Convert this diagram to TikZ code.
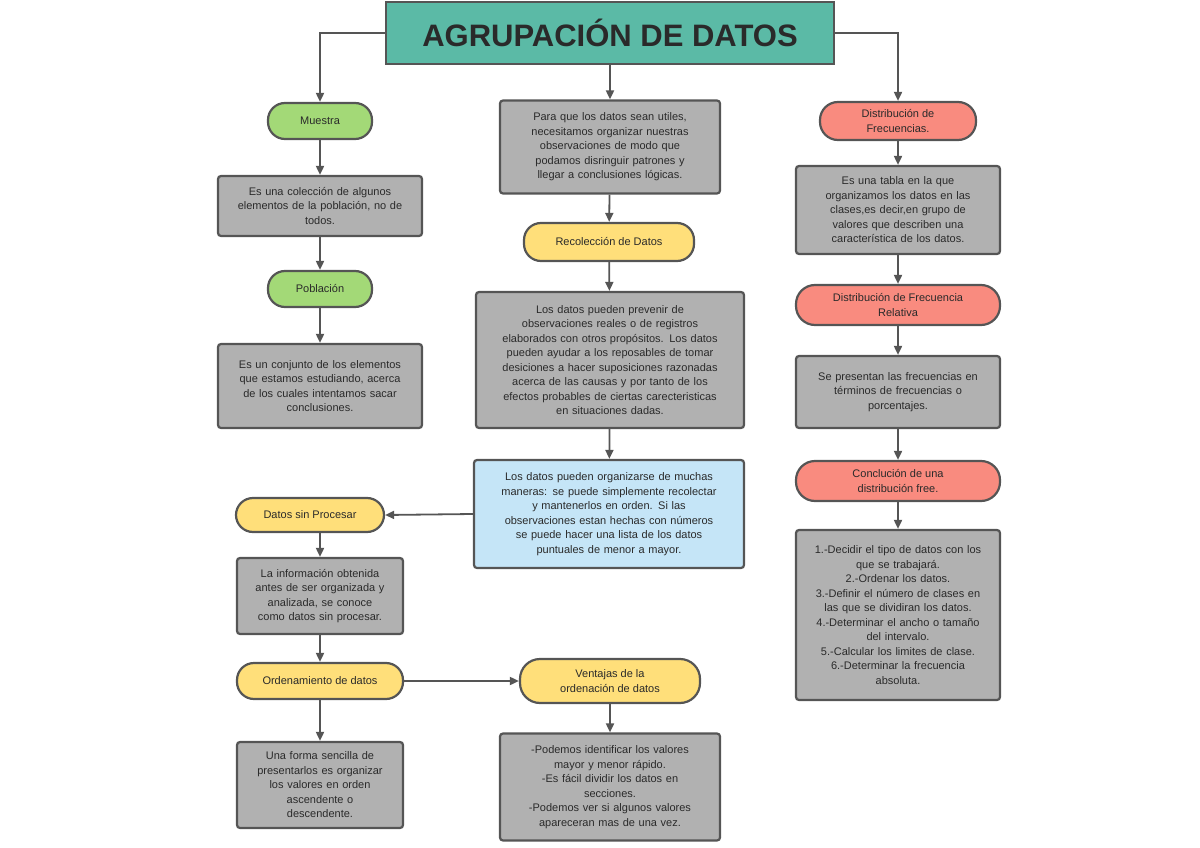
\documentclass[tikz,border=0pt]{standalone}
\usepackage{fontspec}
\setmainfont{Liberation Sans}
\usetikzlibrary{arrows.meta}
\definecolor{ln}{HTML}{555555}
\definecolor{gbox}{HTML}{B1B1B1}
\definecolor{teal1}{HTML}{5BBAA6}
\definecolor{green1}{HTML}{A3D977}
\definecolor{yel1}{HTML}{FFDF7A}
\definecolor{sal1}{HTML}{F98B7F}
\definecolor{blue1}{HTML}{C5E5F7}
\definecolor{txt}{HTML}{2A2A2A}
\begin{document}
\begin{tikzpicture}[x=1pt,y=-1pt,
  base/.style={draw=ln,line width=2.2pt,text=txt,align=center,inner sep=2pt,font=\fontsize{11}{14.5}\selectfont},
  bx/.style={base,fill=gbox,rounded corners=3pt},
  ov/.style={base,rounded corners=17pt},
  ar/.style={draw=ln,line width=1.8pt,-{Triangle[length=9pt,width=8pt]}}]
\useasboundingbox (0,0) rectangle (1200,848);
\newcommand{\bxat}[5]{\node[bx,#5,minimum width=#2pt,minimum height=#3pt,text width=#2pt-10pt] (#4) at (#1) {};}
% title
\node[base,fill=teal1,minimum width=448pt,minimum height=62pt,font=\fontsize{31}{31}\bfseries\selectfont] (title) at (610,33) {AGRUPACIÓN DE DATOS};
% left column
\node[ov,fill=green1,minimum width=104pt,minimum height=36pt] (mue) at (320,121) {Muestra};
\node[bx,minimum width=204pt,minimum height=60pt,text width=194pt] (b1) at (320,206) {Es una colección de algunos\\elementos de la población, no de\\todos.};
\node[ov,fill=green1,minimum width=104pt,minimum height=36pt] (pob) at (320,289) {Población};
\node[bx,minimum width=204pt,minimum height=84pt,text width=194pt] (b2) at (320,386) {Es un conjunto de los elementos\\que estamos estudiando, acerca\\de los cuales intentamos sacar\\conclusiones.};
% middle
\node[bx,minimum width=220pt,minimum height=93pt,text width=210pt] (m1) at (610,147) {Para que los datos sean utiles,\\necesitamos organizar nuestras\\observaciones de modo que\\podamos disringuir patrones y\\llegar a conclusiones lógicas.};
\node[ov,fill=yel1,minimum width=170pt,minimum height=38pt] (rec) at (609,242) {Recolección de Datos};
\node[bx,minimum width=268pt,minimum height=136pt,text width=258pt] (m2) at (610,360) {Los datos pueden prevenir de\\observaciones reales o de registros\\elaborados con otros propósitos. Los datos\\pueden ayudar a los reposables de tomar\\desiciones a hacer suposiciones razonadas\\acerca de las causas y por tanto de los\\efectos probables de ciertas carecteristicas\\en situaciones dadas.};
\node[bx,fill=blue1,minimum width=270pt,minimum height=108pt,text width=260pt] (m3) at (609,514) {Los datos pueden organizarse de muchas\\maneras: se puede simplemente recolectar\\y mantenerlos en orden. Si las\\observaciones estan hechas con números\\se puede hacer una lista de los datos\\puntuales de menor a mayor.};
\node[ov,fill=yel1,minimum width=148pt,minimum height=34pt] (dsp) at (310,515) {Datos sin Procesar};
\node[bx,minimum width=166pt,minimum height=76pt,text width=160pt] (b3) at (320,596) {La información obtenida\\antes de ser organizada y\\analizada, se conoce\\como datos sin procesar.};
\node[ov,fill=yel1,minimum width=166pt,minimum height=36pt] (ord) at (320,681) {Ordenamiento de datos};
\node[bx,minimum width=166pt,minimum height=86pt,text width=160pt] (b4) at (320,785) {Una forma sencilla de\\presentarlos es organizar\\los valores en orden\\ascendente o\\descendente.};
\node[ov,fill=yel1,minimum width=180pt,minimum height=44pt,rounded corners=20pt] (ven) at (610,681) {Ventajas de la\\ordenación de datos};
\node[bx,minimum width=220pt,minimum height=107pt,text width=214pt] (m4) at (610,787) {-Podemos identificar los valores\\mayor y menor rápido.\\-Es fácil dividir los datos en\\secciones.\\-Podemos ver si algunos valores\\apareceran mas de una vez.};
% right
\node[ov,fill=sal1,minimum width=156pt,minimum height=38pt,rounded corners=18pt] (dfr) at (898,121) {Distribución de\\Frecuencias.};
\node[bx,minimum width=204pt,minimum height=88pt,text width=194pt] (r1) at (898,210) {Es una tabla en la que\\organizamos los datos en las\\clases,es decir,en grupo de\\valores que describen una\\característica de los datos.};
\node[ov,fill=sal1,minimum width=204pt,minimum height=40pt,rounded corners=19pt] (dfrr) at (898,305) {Distribución de Frecuencia\\Relativa};
\node[bx,minimum width=204pt,minimum height=72pt,text width=194pt] (r2) at (898,392) {Se presentan las frecuencias en\\términos de frecuencias o\\porcentajes.};
\node[ov,fill=sal1,minimum width=204pt,minimum height=40pt,rounded corners=19pt] (con) at (898,481) {Conclución de una\\distribución free.};
\node[bx,minimum width=204pt,minimum height=170pt,text width=196pt] (r3) at (898,615) {1.-Decidir el tipo de datos con los\\que se trabajará.\\2.-Ordenar los datos.\\3.-Definir el número de clases en\\las que se dividiran los datos.\\4.-Determinar el ancho o tamaño\\del intervalo.\\5.-Calcular los limites de clase.\\6.-Determinar la frecuencia\\absoluta.};
% arrows
\draw[ar] (title.west) -| (mue.north);
\draw[ar] (title.east) -| (dfr.north);
\draw[ar] (title.south -| m1.north) -- (m1.north);
\draw[ar] (mue) -- (b1);
\draw[ar] (b1) -- (pob);
\draw[ar] (pob) -- (b2);
\draw[ar] (m1) -- (rec);
\draw[ar] (rec) -- (m2);
\draw[ar] (m2) -- (m3);
\draw[ar] (m3.west) -- (dsp.east);
\draw[ar] (dsp.south -| b3.north) -- (b3.north);
\draw[ar] (b3) -- (ord);
\draw[ar] (ord) -- (b4);
\draw[ar] (ord) -- (ven);
\draw[ar] (ven) -- (m4);
\draw[ar] (dfr) -- (r1);
\draw[ar] (r1) -- (dfrr);
\draw[ar] (dfrr) -- (r2);
\draw[ar] (r2) -- (con);
\draw[ar] (con) -- (r3);
\end{tikzpicture}
\end{document}
